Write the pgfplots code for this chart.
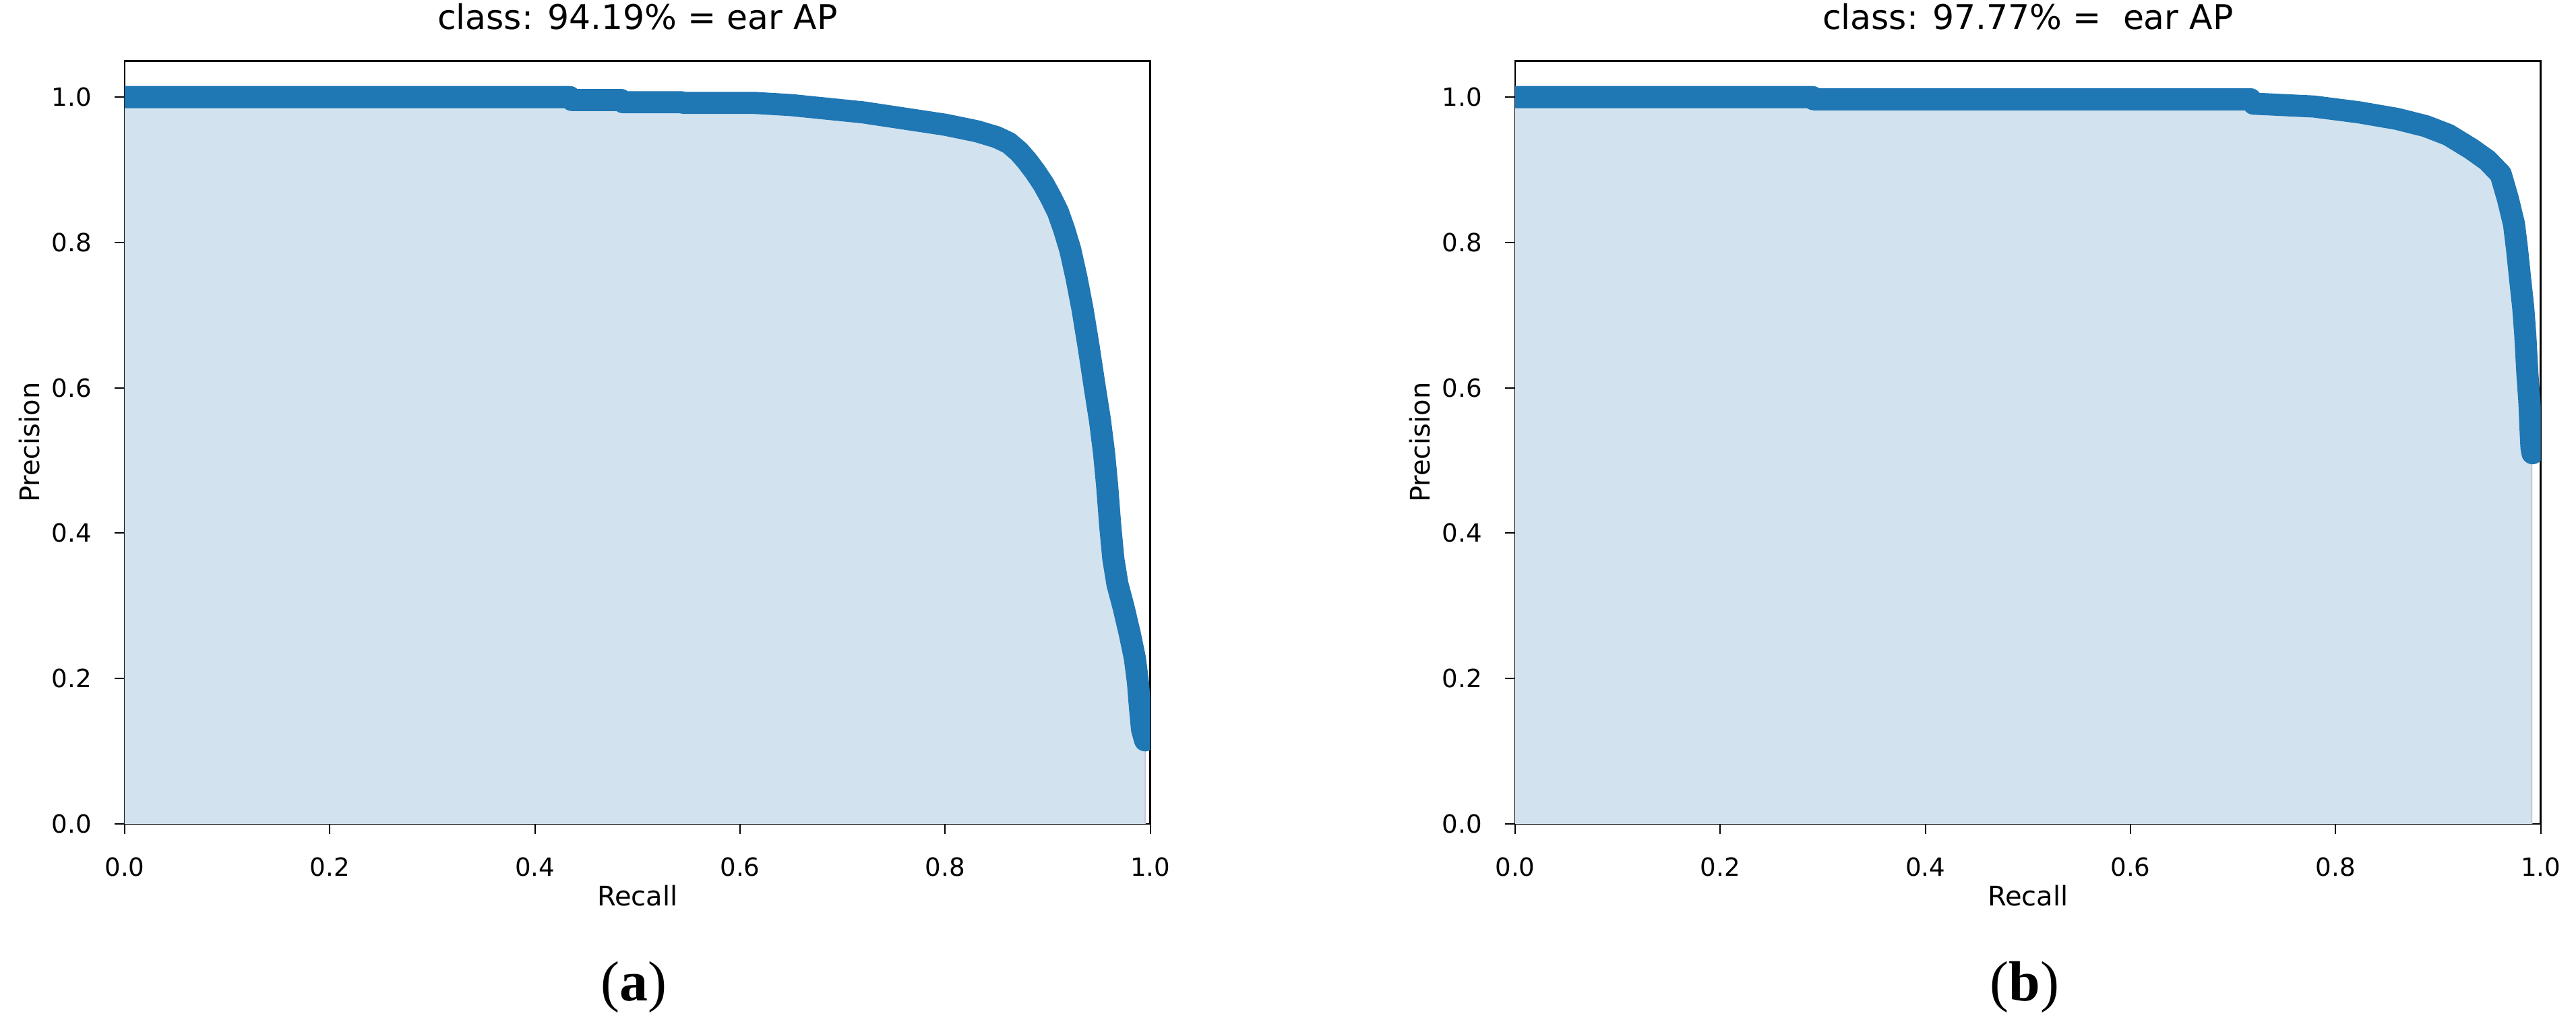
\documentclass[border=0pt]{standalone}
\usepackage{fontspec}
\setmainfont{DejaVu Sans}
\newfontfamily\capfont{Liberation Serif}
\usepackage{pgfplots}
\pgfplotsset{compat=1.18}
\definecolor{cline}{HTML}{1F77B4}
\definecolor{cfill}{HTML}{D2E3EF}
\definecolor{cedge}{HTML}{C9C9D2}
\pgfplotsset{
  prstyle/.style={
    anchor=south west,
    width=380.4pt, height=283.2pt, scale only axis,
    xmin=0, xmax=1, ymin=0, ymax=1.05,
    xtick={0,0.2,0.4,0.6,0.8,1}, xticklabels={0.0,0.2,0.4,0.6,0.8,1.0},
    ytick={0,0.2,0.4,0.6,0.8,1}, yticklabels={0.0,0.2,0.4,0.6,0.8,1.0},
    tick align=outside, tick pos=left,
    major tick length=3.75pt,
    every tick/.style={black, line width=0.5pt},
    axis line style={line width=0.7pt},
    ticklabel style={font=\fontsize{9.3}{11}\selectfont},
    xticklabel style={anchor=base, yshift=-15.5pt},
    yticklabel style={anchor=east, xshift=-5pt},
    label style={font=\fontsize{10}{12}\selectfont},
    xlabel={Recall}, ylabel={Precision},
    xlabel style={at={(axis description cs:0.5,-0.1077)}, anchor=base},
    ylabel style={at={(axis description cs:-0.0927,0.5)}, anchor=center, rotate=0},
    title style={at={(axis description cs:0.5,1)}, anchor=base, yshift=5.6pt, font=\fontsize{12.6}{15}\selectfont},
    /pgf/number format/assume math mode=true,
  },
  prline/.style={cline, line width=8.2pt, line cap=round, line join=round},
  prfill/.style={fill=cfill, draw=none},
}
\begin{document}
\begin{tikzpicture}
\useasboundingbox (0,0) rectangle (955.5pt,380pt);
% ---------- (a) ----------
\begin{axis}[prstyle, at={(46.25pt,74.25pt)}, title={class: 94.19\% = ear AP}]
\addplot[prfill] coordinates {
(0,1.0) (0.434,1.0) (0.436,0.996) (0.484,0.996) (0.486,0.993) (0.543,0.993)
(0.545,0.992) (0.614,0.992) (0.65,0.989) (0.685,0.984) (0.72,0.979) (0.767,0.969)
(0.80,0.962) (0.831,0.953) (0.85,0.945) (0.862,0.937) (0.872,0.925) (0.880,0.912)
(0.888,0.897) (0.896,0.880) (0.903,0.862) (0.910,0.842) (0.916,0.818) (0.922,0.790)
(0.928,0.752) (0.934,0.708) (0.940,0.656) (0.946,0.600) (0.951,0.555) (0.955,0.51)
(0.958,0.465) (0.961,0.41) (0.964,0.365) (0.968,0.33) (0.974,0.298) (0.980,0.262)
(0.985,0.228) (0.988,0.195) (0.990,0.16) (0.992,0.13) (0.995,0.115)} \closedcycle;
\addplot[cedge, line width=0.6pt] coordinates {(0.995,0) (0.995,0.115)};
\addplot[prline] coordinates {
(0,1.0) (0.434,1.0) (0.436,0.996) (0.484,0.996) (0.486,0.993) (0.543,0.993)
(0.545,0.992) (0.614,0.992) (0.65,0.989) (0.685,0.984) (0.72,0.979) (0.767,0.969)
(0.80,0.962) (0.831,0.953) (0.85,0.945) (0.862,0.937) (0.872,0.925) (0.880,0.912)
(0.888,0.897) (0.896,0.880) (0.903,0.862) (0.910,0.842) (0.916,0.818) (0.922,0.790)
(0.928,0.752) (0.934,0.708) (0.940,0.656) (0.946,0.600) (0.951,0.555) (0.955,0.51)
(0.958,0.465) (0.961,0.41) (0.964,0.365) (0.968,0.33) (0.974,0.298) (0.980,0.262)
(0.985,0.228) (0.988,0.195) (0.990,0.16) (0.992,0.13) (0.995,0.115)};
\end{axis}
% ---------- (b) ----------
\begin{axis}[prstyle, at={(562pt,74.25pt)}, title={class: 97.77\% =\ \ ear AP}]
\addplot[prfill] coordinates {
(0,1.0) (0.29,1.0) (0.291,0.997) (0.717,0.997) (0.72,0.991) (0.779,0.987)
(0.823,0.979) (0.86,0.97) (0.888,0.96) (0.91,0.948) (0.932,0.929) (0.948,0.913)
(0.961,0.894) (0.968,0.86) (0.974,0.825) (0.977,0.79) (0.980,0.749) (0.983,0.71)
(0.985,0.672) (0.987,0.62) (0.989,0.58) (0.990,0.545) (0.991,0.518) (0.992,0.51)} \closedcycle;
\addplot[cedge, line width=0.6pt] coordinates {(0.991,0) (0.991,0.51)};
\addplot[prline] coordinates {
(0,1.0) (0.29,1.0) (0.291,0.997) (0.717,0.997) (0.72,0.991) (0.779,0.987)
(0.823,0.979) (0.86,0.97) (0.888,0.96) (0.91,0.948) (0.932,0.929) (0.948,0.913)
(0.961,0.894) (0.968,0.86) (0.974,0.825) (0.977,0.79) (0.980,0.749) (0.983,0.71)
(0.985,0.672) (0.987,0.62) (0.989,0.58) (0.990,0.545) (0.991,0.518) (0.992,0.51)};
\end{axis}
% captions
\node[anchor=base, font=\capfont\fontsize{21}{25}\selectfont] at (235pt,8.75pt) {(\textbf{a})};
\node[anchor=base, font=\capfont\fontsize{21}{25}\selectfont] at (751pt,8.75pt) {(\textbf{b})};
\end{tikzpicture}
\end{document}
